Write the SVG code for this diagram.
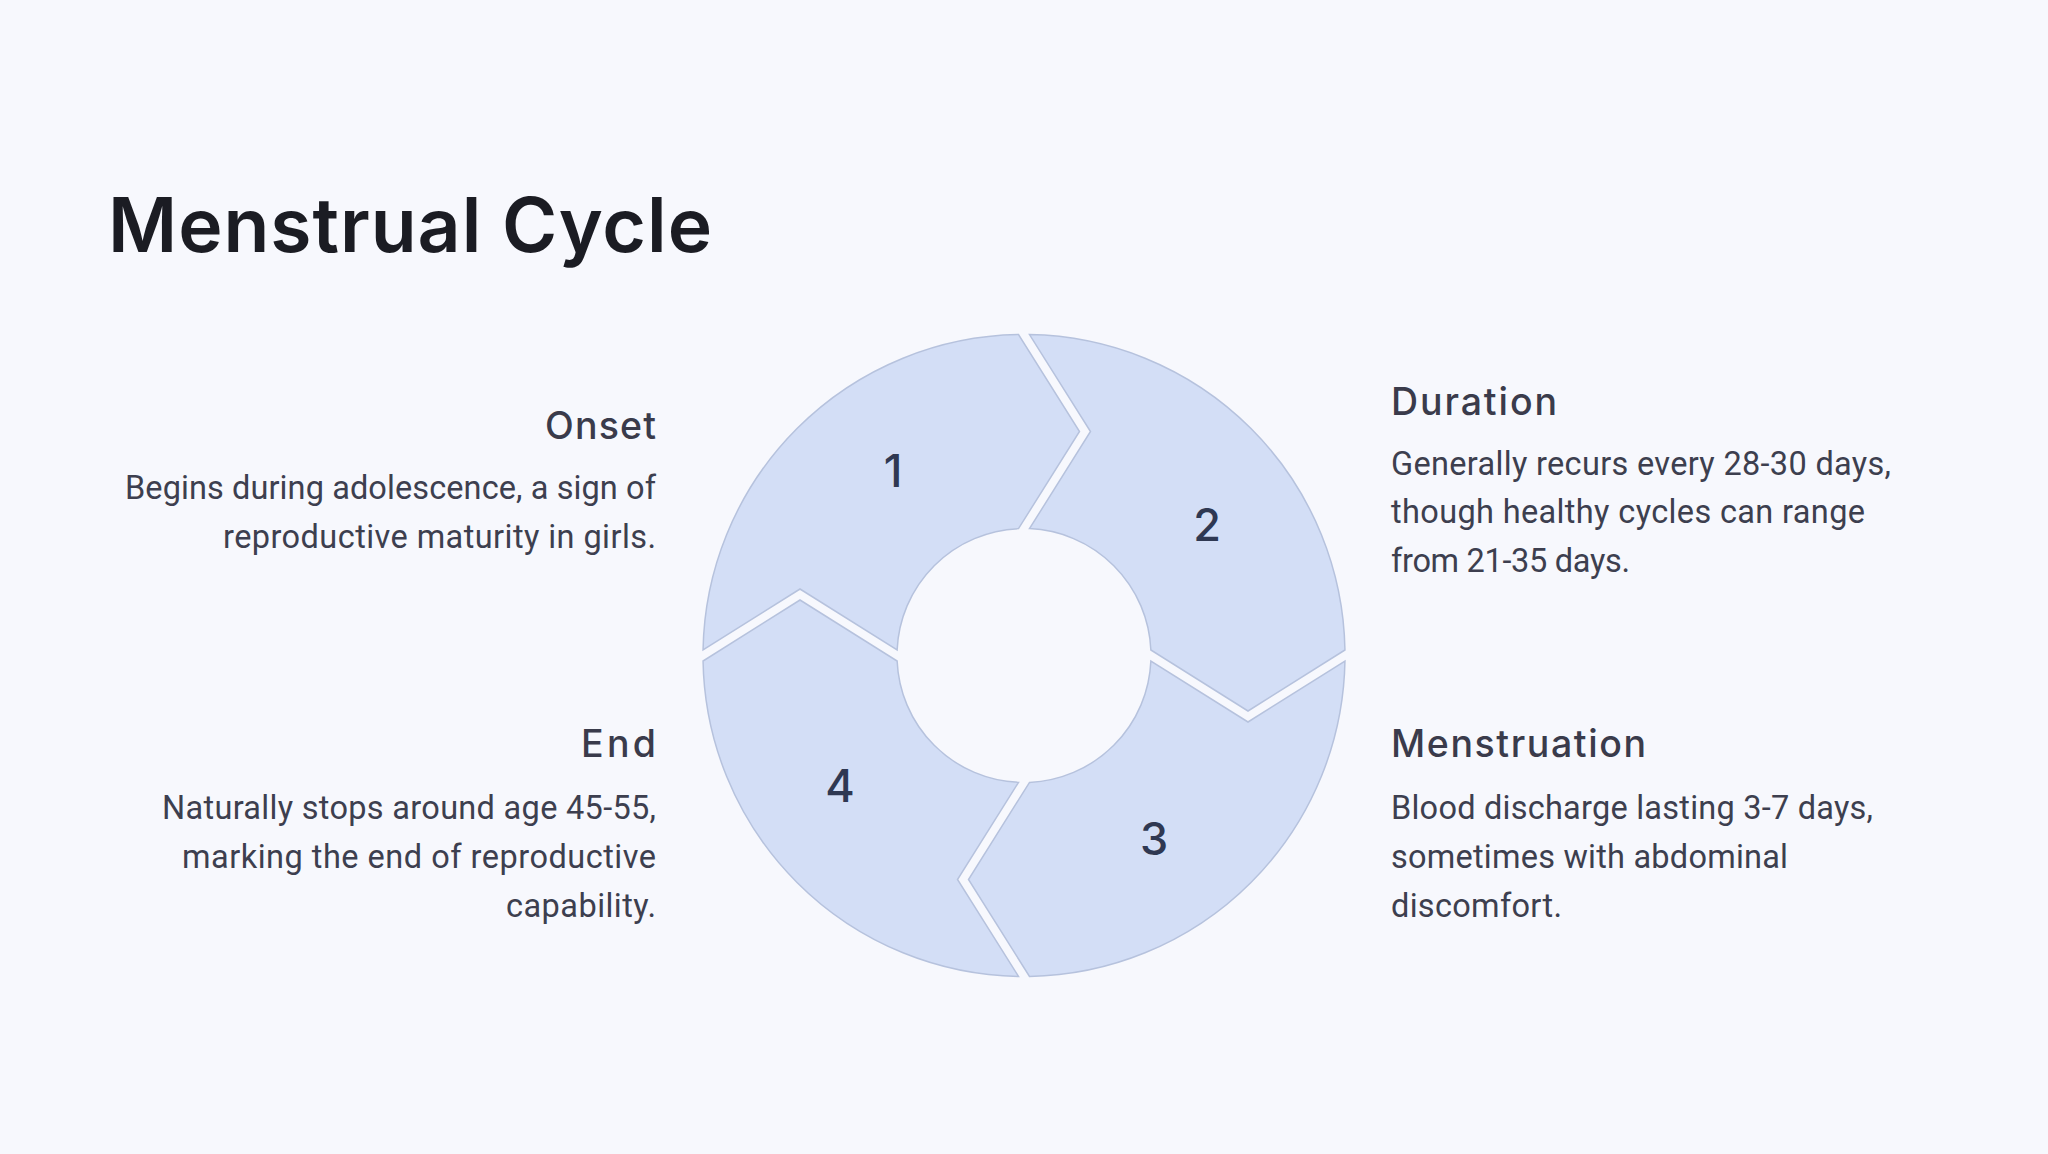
<svg xmlns="http://www.w3.org/2000/svg" width="2048" height="1154" viewBox="0 0 2048 1154">
  <style>
    .bg { fill: #f7f8fd; }
    .seg { fill: #d3def6; stroke: #b6c2dd; stroke-width: 1.5; stroke-linejoin: miter; }
    .title { font-family: Inter, "Liberation Sans", sans-serif; font-weight: 600; font-size: 75px; fill: #1b1c23; }
    .head { font-family: Inter, "Liberation Sans", sans-serif; font-weight: 500; font-size: 37.5px; fill: #3a3b4b; }
    .body { font-family: Roboto, "Liberation Sans", sans-serif; font-weight: 400; font-size: 32.5px; fill: #3d3f4f; }
    .num { font-family: Inter, "Liberation Sans", sans-serif; font-weight: 500; font-size: 45px; fill: #2f3852; text-anchor: middle; }
    .end { text-anchor: end; }
  </style>
  <rect class="bg" x="0" y="0" width="2048" height="1154"/>
  <text class="title" x="108" y="252" textLength="604" lengthAdjust="spacing">Menstrual Cycle</text>

  <g id="ring">
    <g id="seg1">
      <path class="seg" d="M703.05,650 A321,321 0 0 1 1018.5,334.55 L1079.5,431.5 L1018.5,528.62 A127,127 0 0 0 897.12,650 L800,589 Z"/>
      <text class="num" x="893" y="487">1</text>
    </g>
    <g id="seg2">
      <path class="seg" d="M1029.5,334.55 A321,321 0 0 1 1344.95,650 L1248,711 L1150.88,650 A127,127 0 0 0 1029.5,528.62 L1090.5,431.5 Z"/>
      <text class="num" x="1207" y="541">2</text>
    </g>
    <g id="seg3">
      <path class="seg" d="M1344.95,661 A321,321 0 0 1 1029.5,976.45 L968.5,879.5 L1029.5,782.38 A127,127 0 0 0 1150.88,661 L1248,722 Z"/>
      <text class="num" x="1154" y="855">3</text>
    </g>
    <g id="seg4">
      <path class="seg" d="M1018.5,976.45 A321,321 0 0 1 703.05,661 L800,600 L897.12,661 A127,127 0 0 0 1018.5,782.38 L957.5,879.5 Z"/>
      <text class="num" x="840" y="802">4</text>
    </g>
  </g>
  <g id="connectors"/>

  <g id="onset">
    <text class="head end" x="656" y="439" textLength="111" lengthAdjust="spacing">Onset</text>
    <text class="body end" x="656" y="499" textLength="531" lengthAdjust="spacing">Begins during adolescence, a sign of</text>
    <text class="body end" x="656" y="548" textLength="433" lengthAdjust="spacing">reproductive maturity in girls.</text>
  </g>
  <g id="duration">
    <text class="head" x="1391" y="415" textLength="166" lengthAdjust="spacing">Duration</text>
    <text class="body" x="1391" y="475" textLength="500" lengthAdjust="spacing">Generally recurs every 28-30 days,</text>
    <text class="body" x="1391" y="523" textLength="474" lengthAdjust="spacing">though healthy cycles can range</text>
    <text class="body" x="1391" y="572" textLength="239" lengthAdjust="spacing">from 21-35 days.</text>
  </g>
  <g id="menstruation">
    <text class="head" x="1391" y="757" textLength="255" lengthAdjust="spacing">Menstruation</text>
    <text class="body" x="1391" y="819" textLength="482" lengthAdjust="spacing">Blood discharge lasting 3-7 days,</text>
    <text class="body" x="1391" y="868" textLength="397" lengthAdjust="spacing">sometimes with abdominal</text>
    <text class="body" x="1391" y="917" textLength="171" lengthAdjust="spacing">discomfort.</text>
  </g>
  <g id="end">
    <text class="head end" x="656" y="757" textLength="75" lengthAdjust="spacing">End</text>
    <text class="body end" x="656" y="819" textLength="494" lengthAdjust="spacing">Naturally stops around age 45-55,</text>
    <text class="body end" x="656" y="868" textLength="474" lengthAdjust="spacing">marking the end of reproductive</text>
    <text class="body end" x="656" y="917" textLength="150" lengthAdjust="spacing">capability.</text>
  </g>
</svg>
